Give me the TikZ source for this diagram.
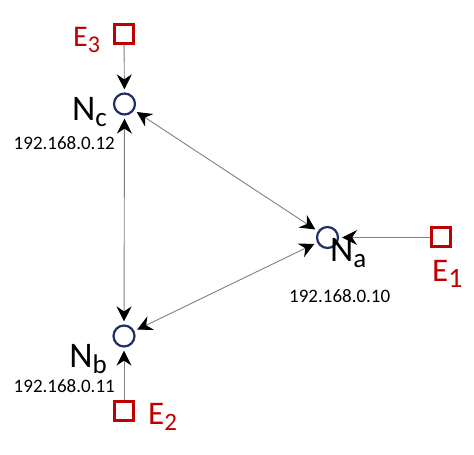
\documentclass[tikz,border=0pt]{standalone}
\usepackage{fontspec}
\setmainfont{Carlito}
\usetikzlibrary{positioning,arrows.meta}
\definecolor{routerblue}{HTML}{1F2F66}
\definecolor{endred}{HTML}{C00000}
\newcommand{\labsub}[2]{\raisebox{-6pt}{\fontsize{#1}{#1}\selectfont #2}}

\begin{document}
\begin{tikzpicture}[
  x=1pt,y=1pt,
  >={Stealth[length=15pt,width=15pt,inset=5pt,black]},
  router/.style={draw=routerblue,circle,line width=2.2pt,fill=white,minimum size=21pt,inner sep=0pt},
  endpt/.style={draw=endred,rectangle,line width=3pt,minimum size=19pt,inner sep=0pt},
  nlabel/.style={inner sep=0pt,font=\fontsize{36}{38}\selectfont},
  elabel/.style={inner sep=0pt,text=endred,font=\fontsize{33}{35}\selectfont},
  iplabel/.style={inner sep=0pt,font=\fontsize{19}{21}\selectfont},
  link/.style={draw=gray,line width=0.9pt,shorten >=3pt},
  ]
  \useasboundingbox (0,0) rectangle (474,455);
  % routers
  \node[router] (routerC) at (124.5,351) {};
  \node[router] (routerA) at (327.5,217.5) {};
  \node[router] (routerB) at (124,119) {};
  % end points
  \node[endpt] (endC) at (124,421) {};
  \node[endpt] (endA) at (441,217.5) {};
  \node[endpt] (endB) at (124,44) {};
  % labels
  \node[nlabel,anchor=base east] (labelC) at (107,334) {N\labsub{27}{c}};
  \node[iplabel,anchor=base east] (ipC) at (115,305) {192.168.0.12};
  \node[nlabel,anchor=base west] (labelA) at (330,193) {N\labsub{27}{a}};
  \node[iplabel,anchor=base west] (ipA) at (289,152) {192.168.0.10};
  \node[nlabel,anchor=base east] (labelB) at (107,87) {N\labsub{27}{b}};
  \node[iplabel,anchor=base east] (ipB) at (115,62) {192.168.0.11};
  \node[elabel,anchor=base west,font=\fontsize{30}{32}\selectfont] (labelEC) at (73,408) {E\labsub{24}{3}};
  \node[elabel,anchor=base west] (labelEA) at (432,173) {E\labsub{28}{1}};
  \node[elabel,anchor=base west] (labelEB) at (148,30) {E\labsub{25}{2}};
  % links
  \draw[link,->] (endC) -- (routerC);
  \draw[link,->] (endA) -- (routerA);
  \draw[link,->] (endB) -- (routerB);
  \draw[link,shorten <=3pt,<->] (routerC) -- (routerA);
  \draw[link,shorten <=3pt,<->] (routerC) -- (routerB);
  \draw[link,shorten <=3pt,<->] (routerA) -- (routerB);
\end{tikzpicture}
\end{document}
